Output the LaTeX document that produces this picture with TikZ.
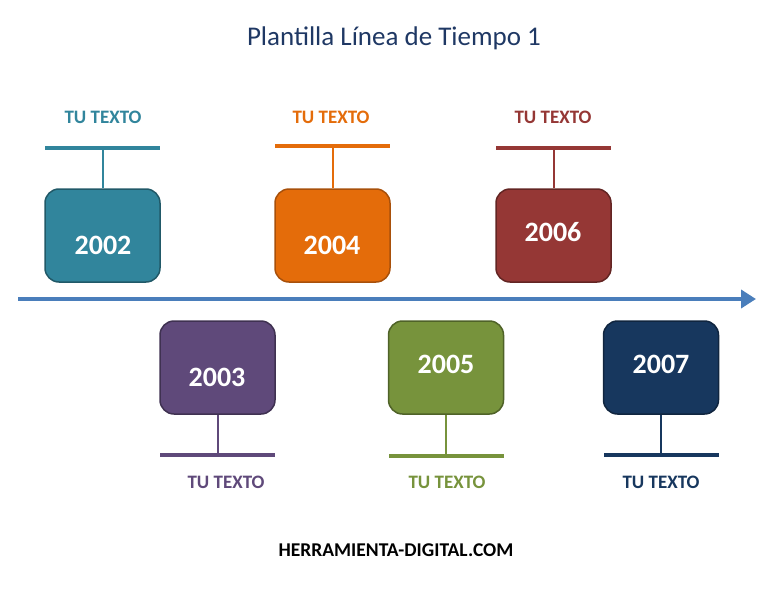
\documentclass[tikz,border=0pt]{standalone}
\usepackage{fontspec}
\setmainfont{Carlito}
\usetikzlibrary{arrows.meta}
\definecolor{cteal}{HTML}{31859C}\definecolor{oteal}{HTML}{215968}
\definecolor{corange}{HTML}{E46C0A}\definecolor{oorange}{HTML}{A8500A}
\definecolor{cred}{HTML}{953735}\definecolor{ored}{HTML}{632523}
\definecolor{cpurple}{HTML}{5F497A}\definecolor{opurple}{HTML}{3F3151}
\definecolor{colive}{HTML}{77933C}\definecolor{oolive}{HTML}{4F6228}
\definecolor{cnavy}{HTML}{17375E}\definecolor{onavy}{HTML}{10253F}
\definecolor{carrow}{HTML}{4A7EBB}
\definecolor{ctitle}{HTML}{1F3864}
\begin{document}
\begin{tikzpicture}[x=1pt,y=-1pt,
  yearbox/.style 2 args={draw=#2,fill=#1,line width=1.5pt,rounded corners=14pt,minimum width=115pt,minimum height=93pt,inner sep=0pt},
  yeartext/.style={text=white,font=\bfseries\fontsize{28}{33}\selectfont,inner sep=0pt},
  bar/.style={fill=#1,minimum width=115pt,minimum height=4pt,inner sep=0pt},
  stem/.style={draw=#1,line width=2pt},
  tutext/.style={text=#1,font=\bfseries\fontsize{19}{23}\selectfont,inner sep=0pt}]
\useasboundingbox (0,0) rectangle (768,594);
\node[text=ctitle,font=\fontsize{27}{32}\selectfont,inner sep=0pt] (title) at (394,38) {Plantilla Línea de Tiempo 1};
\coordinate (as) at (18,299);
\coordinate (ae) at (756,299);
\draw[carrow,line width=4.5pt,-{Triangle[length=15pt,width=18pt]}] (as) -- (ae);
% 2002
\node[yearbox={cteal}{oteal}] (b2002) at (102.5,235.5) {};
\node[yeartext] (y2002) at (103,245) {2002};
\node[bar=cteal] (r2002) at (102.5,148) {};
\draw[stem=cteal] (b2002.north) -- (r2002.center);
\node[tutext=cteal] (t2002) at (103,117) {TU TEXTO};
% 2004
\node[yearbox={corange}{oorange}] (b2004) at (332.5,235.5) {};
\node[yeartext] (y2004) at (332,245) {2004};
\node[bar=corange] (r2004) at (332.5,146) {};
\draw[stem=corange] (b2004.north) -- (r2004.center);
\node[tutext=corange] (t2004) at (331,117) {TU TEXTO};
% 2006
\node[yearbox={cred}{ored}] (b2006) at (553.5,235.5) {};
\node[yeartext] (y2006) at (553,232) {2006};
\node[bar=cred] (r2006) at (553.5,148) {};
\draw[stem=cred] (b2006.north) -- (r2006.center);
\node[tutext=cred] (t2006) at (553,117) {TU TEXTO};
% 2003
\node[yearbox={cpurple}{opurple}] (b2003) at (217.5,367.5) {};
\node[yeartext] (y2003) at (217,377) {2003};
\node[bar=cpurple] (r2003) at (217.5,455) {};
\draw[stem=cpurple] (b2003.south) -- (r2003.center);
\node[tutext=cpurple] (t2003) at (226,482) {TU TEXTO};
% 2005
\node[yearbox={colive}{oolive}] (b2005) at (446,367.5) {};
\node[yeartext] (y2005) at (446,364) {2005};
\node[bar=colive] (r2005) at (446,456) {};
\draw[stem=colive] (b2005.south) -- (r2005.center);
\node[tutext=colive] (t2005) at (447,482) {TU TEXTO};
% 2007
\node[yearbox={cnavy}{onavy}] (b2007) at (661,367.5) {};
\node[yeartext] (y2007) at (661,364) {2007};
\node[bar=cnavy] (r2007) at (661,455) {};
\draw[stem=cnavy] (b2007.south) -- (r2007.center);
\node[tutext=cnavy] (t2007) at (661,482) {TU TEXTO};
% footer
\node[font=\bfseries\fontsize{19.5}{23}\selectfont,inner sep=0pt] (foot) at (396,550) {HERRAMIENTA-DIGITAL.COM};
\end{tikzpicture}
\end{document}
